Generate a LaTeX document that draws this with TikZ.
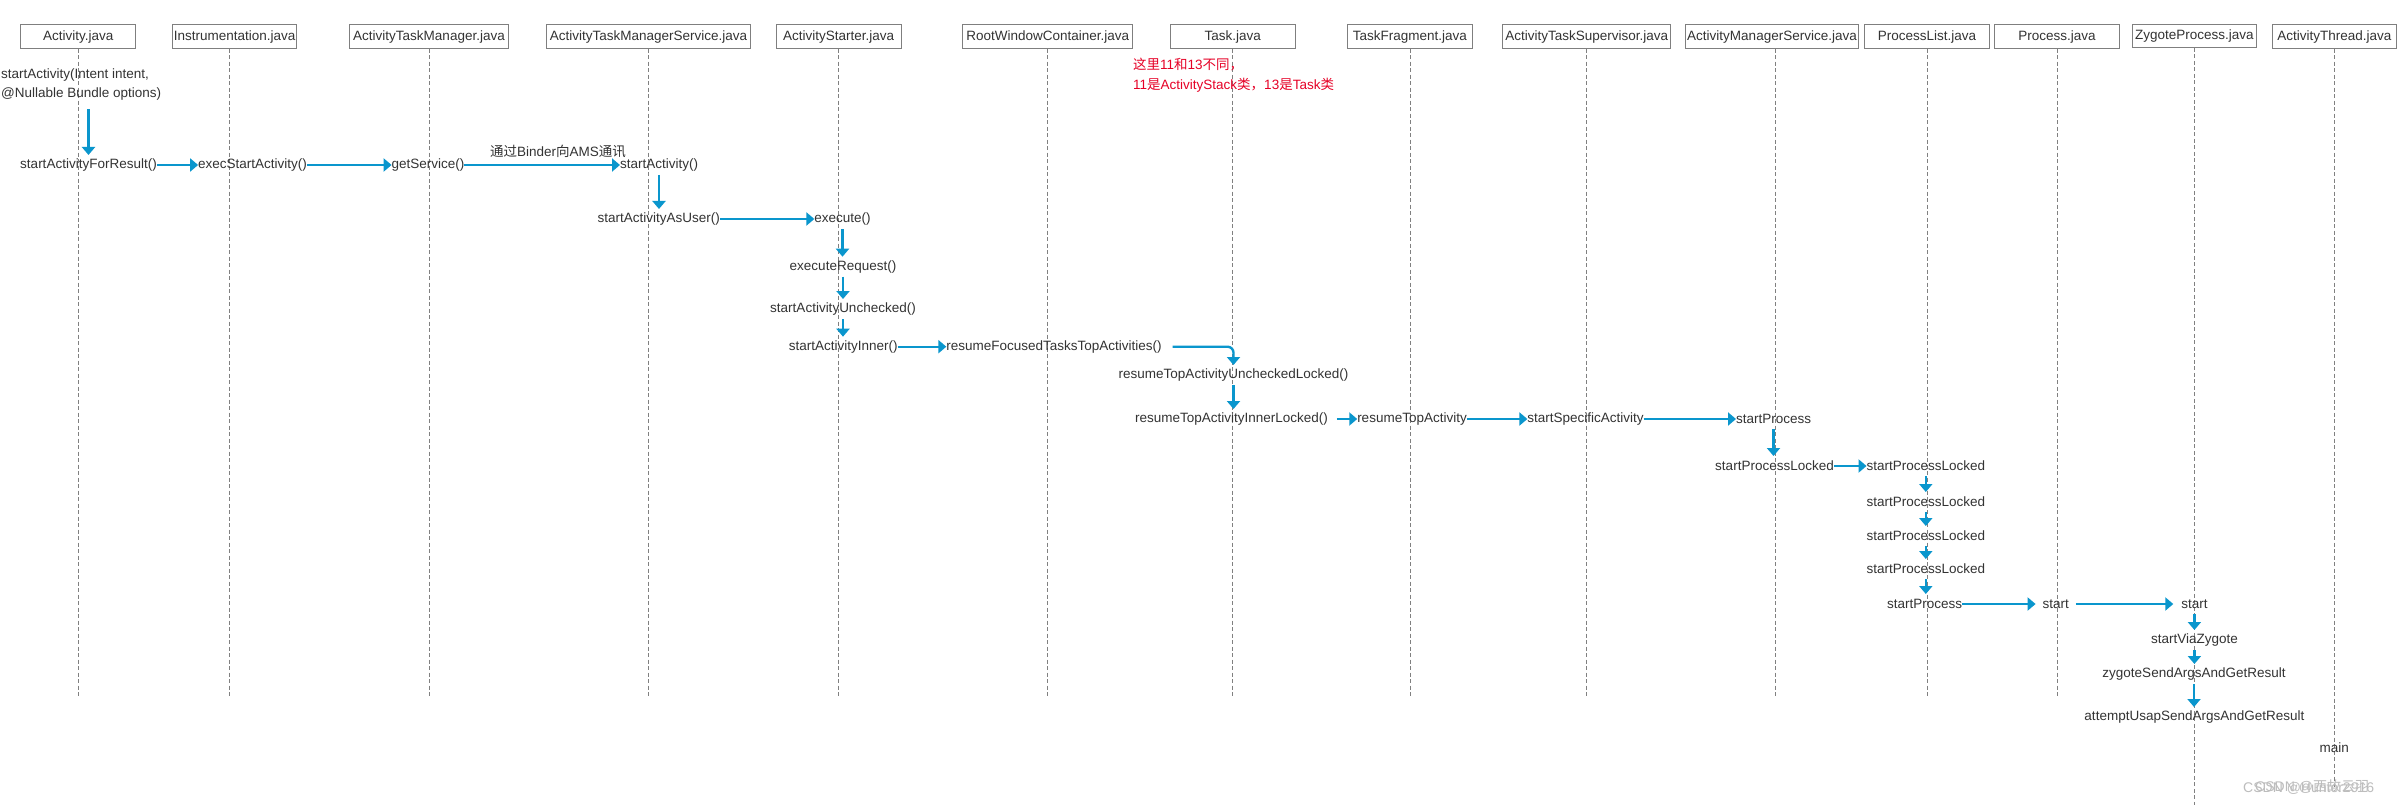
\documentclass[tikz,border=0pt]{standalone}
\usepackage{fontspec}
\setmainfont{Liberation Sans}
\newfontfamily\cjk{Noto Sans CJK SC}
\usetikzlibrary{arrows.meta}
\definecolor{arrblue}{HTML}{0A96CD}
\definecolor{boxgray}{HTML}{7F7F7F}
\definecolor{linegray}{HTML}{808080}
\definecolor{txt}{HTML}{333333}
\definecolor{redtxt}{HTML}{E60026}
\definecolor{wmgray}{HTML}{BDBDBD}
\begin{document}
\begin{tikzpicture}[x=1pt,y=-1pt,
  font=\fontsize{13.5}{19}\selectfont,
  hdr/.style={draw=boxgray, line width=0.9pt, minimum height=23.3pt, inner sep=0pt, text=txt},
  msg/.style={inner sep=0pt, outer sep=0pt, minimum height=20pt, text=txt},
  arr/.style={draw=arrblue, line width=2.4pt, -{Triangle[length=8pt,width=13pt]}},
  life/.style={draw=linegray, line width=0.8pt, dash pattern=on 4pt off 2.5pt}]
\useasboundingbox[fill=white] (0,0) rectangle (2398,805);

% headers
\node[hdr, minimum width=115pt]   (act)   at (78.3,36.6)   {Activity.java};
\node[hdr, minimum width=124pt]   (ins)   at (234.7,36.6)  {Instrumentation.java};
\node[hdr, minimum width=159pt]   (atm)   at (429,36.6)    {ActivityTaskManager.java};
\node[hdr, minimum width=204pt]   (atms)  at (648.5,36.6)  {ActivityTaskManagerService.java};
\node[hdr, minimum width=125.5pt] (ast)   at (838.7,36.6)  {ActivityStarter.java};
\node[hdr, minimum width=170pt]   (rwc)   at (1047.8,36.6) {RootWindowContainer.java};
\node[hdr, minimum width=124.5pt] (task)  at (1232.7,36.6) {Task.java};
\node[hdr, minimum width=125pt]   (tf)    at (1409.9,36.6) {TaskFragment.java};
\node[hdr, minimum width=168pt]   (atsup) at (1586.7,36.6) {ActivityTaskSupervisor.java};
\node[hdr, minimum width=173pt]   (ams)   at (1772,36.6)   {ActivityManagerService.java};
\node[hdr, minimum width=124.7pt] (pl)    at (1927,36.6)   {ProcessList.java};
\node[hdr, minimum width=125.2pt] (proc)  at (2057,36.6)   {Process.java};
\node[hdr, minimum width=124.2pt] (zyg)   at (2194.4,35.7) {ZygoteProcess.java};
\node[hdr, minimum width=124pt]   (at)    at (2334.4,36.6) {ActivityThread.java};

% lifelines
\draw[life] (act.south) -- ++(0,647);
\draw[life] ([xshift=-5pt]ins.south) -- ++(0,647);
\draw[life] (atm.south) -- ++(0,647);
\draw[life] (atms.south) -- ++(0,647);
\draw[life] (ast.south) -- ++(0,647);
\draw[life] (rwc.south) -- ++(0,647);
\draw[life] (task.south) -- ++(0,647);
\draw[life] (tf.south) -- ++(0,647);
\draw[life] (atsup.south) -- ++(0,647);
\draw[life] ([xshift=3.5pt]ams.south) -- ++(0,647);
\draw[life] (pl.south) -- ++(0,647);
\draw[life] (proc.south) -- ++(0,647);
\draw[life] (zyg.south) -- ++(0,758);
\draw[life] (at.south) -- ++(0,742);

% red note
\node[anchor=north west, inner sep=0pt, align=left, text=redtxt, font=\fontsize{13.5}{20}\selectfont] (note) at (1133,58)
  {{\cjk 这里}11{\cjk 和}13{\cjk 不同，}\\11{\cjk 是}ActivityStack{\cjk 类，}13{\cjk 是}Task{\cjk 类}};

% messages
\node[anchor=west, inner sep=0pt, align=left, text=txt] (m0) at (1,84.5)
  {startActivity(Intent intent,\\@Nullable Bundle options)};
\node[msg] (m1)  at (88.5,165)   {startActivityForResult()};
\node[msg] (m2)  at (252.5,165)  {execStartActivity()};
\node[msg] (m3)  at (428,165)    {getService()};
\node[msg] (m4)  at (659,165)    {startActivity()};
\node[inner sep=0pt, text=txt] (lbl) at (558,151) {{\cjk 通过}Binder{\cjk 向}AMS{\cjk 通讯}};
\node[msg] (m5)  at (658.7,219)  {startActivityAsUser()};
\node[msg] (m6)  at (842.5,219)  {execute()};
\node[msg] (m7)  at (843,266.7)  {executeRequest()};
\node[msg] (m8)  at (843,309)    {startActivityUnchecked()};
\node[msg] (m9)  at (843.3,346.7) {startActivityInner()};
\node[msg] (m10) at (1054,346.7) {resumeFocusedTasksTopActivities()};
\node[msg] (m11) at (1233.5,375) {resumeTopActivityUncheckedLocked()};
\node[msg] (m12) at (1231.5,419) {resumeTopActivityInnerLocked()};
\node[msg] (m13) at (1412,419)   {resumeTopActivity};
\node[msg] (m14) at (1585.5,419) {startSpecificActivity};
\node[msg] (m15) at (1773.5,419) {startProcess};
\node[msg] (m16) at (1774.5,466) {startProcessLocked};
\node[msg] (m17) at (1925.8,466) {startProcessLocked};
\node[msg] (m18) at (1925.8,502) {startProcessLocked};
\node[msg] (m19) at (1925.8,536) {startProcessLocked};
\node[msg] (m20) at (1925.8,569) {startProcessLocked};
\node[msg] (m21) at (1924.5,604) {startProcess};
\node[msg] (m22) at (2055.7,604) {start};
\node[msg] (m23) at (2194.4,604) {start};
\node[msg] (m24) at (2194.4,640) {startViaZygote};
\node[msg] (m25) at (2194,674)   {zygoteSendArgsAndGetResult};
\node[msg] (m26) at (2194.4,717) {attemptUsapSendArgsAndGetResult};
\node[msg] (m27) at (2334.3,748) {main};

% watermark (two overlapping texts, as in the reference)
\node[anchor=west, inner sep=0pt, text=wmgray, font=\fontsize{14}{16}\selectfont] (wm1) at (2243,788) {CSDN @Hunter2916};
\node[anchor=west, inner sep=0pt, text=wmgray, font=\fontsize{14}{16}\selectfont] (wm2) at (2255,787) {CSDN @{\cjk 西故云羽}};

% arrows
\draw[arr, shorten <=9pt] (m0.south -| m1.north) -- (m1.north);
\draw[arr] (m1.east) -- (m2.west);
\draw[arr] (m2.east) -- (m3.west);
\draw[arr] (m3.east) -- (m4.west);
\draw[arr] (m4.south) -- (m4.south |- m5.north);
\draw[arr] (m5.east) -- (m6.west);
\draw[arr] (m6.south) -- (m6.south |- m7.north);
\draw[arr] (m7.south) -- (m7.south |- m8.north);
\draw[arr] (m8.south) -- (m8.south |- m9.north);
\draw[arr] (m9.east) -- (m10.west);
\draw[arr, rounded corners=6pt, shorten <=11pt] (m10.east) -| (m11.north);
\draw[arr] (m11.south) -- (m11.south |- m12.north);
\draw[arr, shorten <=9pt] (m12.east) -- (m13.west);
\draw[arr] (m13.east) -- (m14.west);
\draw[arr] (m14.east) -- (m15.west);
\draw[arr] (m15.south) -- (m15.south |- m16.north);
\draw[arr] (m16.east) -- (m17.west);
\draw[arr] (m17.south) -- (m17.south |- m18.north);
\draw[arr] (m18.south) -- (m18.south |- m19.north);
\draw[arr] (m19.south) -- (m19.south |- m20.north);
\draw[arr] (m20.south) -- (m20.south |- m21.north);
\draw[arr, shorten >=7pt] (m21.east) -- (m22.west);
\draw[arr, shorten <=7pt, shorten >=8pt] (m22.east) -- (m23.west);
\draw[arr] (m23.south) -- (m23.south |- m24.north);
\draw[arr] (m24.south) -- (m24.south |- m25.north);
\draw[arr] (m25.south) -- (m25.south |- m26.north);
\end{tikzpicture}
\end{document}
